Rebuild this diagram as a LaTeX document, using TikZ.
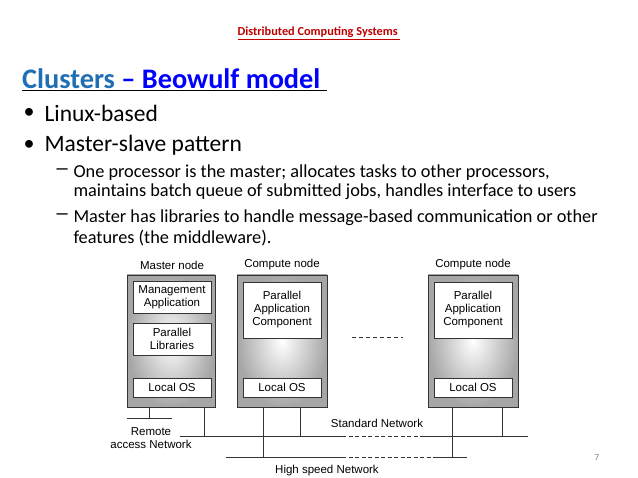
\documentclass[tikz,border=0pt]{standalone}
\usepackage{fontspec}
\setmainfont{Carlito}
\setsansfont{Liberation Sans}
\begin{document}
\begin{tikzpicture}[x=1pt,y=-1pt,
  outer/.style={draw=black!80,line width=0.9pt,inner color=white,outer color=black!35},
  inner/.style={draw=black!80,line width=0.6pt,fill=white,align=center,font=\sffamily\fontsize{11.5}{13}\selectfont,inner sep=0pt},
  lbl/.style={font=\sffamily\fontsize{11.5}{13}\selectfont,align=center},
  net/.style={line width=0.7pt,black!80},
  txt/.style={anchor=west,font=\fontsize{18.3}{22}\selectfont},
  dsh/.style={anchor=west,font=\sffamily\fontsize{20}{22}\selectfont}]
\useasboundingbox[fill=white] (0,0) rectangle (638,478);
\node[text=red!75!black,font=\bfseries\fontsize{12.3}{14}\selectfont] (hdr) at (319,33) {\underline{Distributed Computing Systems\ }};
\node[anchor=west,font=\bfseries\fontsize{28.3}{34}\selectfont,inner sep=0pt] (ttl) at (22,80) {\underline{\textcolor[HTML]{1F6FB5}{Clusters} \textcolor{blue}{– Beowulf model\ }}};
\node[txt,font=\fontsize{22}{26}\selectfont] (b1) at (20,113) {•};
\node[txt,font=\fontsize{23.5}{26}\selectfont] (b1t) at (41,113) {Linux-based};
\node[txt,font=\fontsize{22}{26}\selectfont] (b2) at (20,145) {•};
\node[txt,font=\fontsize{23.5}{26}\selectfont] (b2t) at (41,145) {Master-slave pattern};
\node[dsh] (d1) at (53,172) {–};
\node[txt] (t1) at (70,173) {One processor is the master; allocates tasks to other processors,};
\node[txt] (t1b) at (70,192) {maintains batch queue of submitted jobs, handles interface to users};
\node[dsh] (d2) at (53,217) {–};
\node[txt] (t2) at (70,218) {Master has libraries to handle message-based communication or other};
\node[txt] (t2b) at (70,238) {features (the middleware).};
% boxes
\path[outer] (127,275) rectangle (215,407);
\path[outer] (237,275) rectangle (327,407);
\path[outer] (428,275) rectangle (518,407);
\node[inner,minimum width=78pt,minimum height=32pt] (mg) at (172,297) {Management\\Application};
\node[inner,minimum width=78pt,minimum height=32pt] (pl) at (172,339) {Parallel\\Libraries};
\node[inner,minimum width=78pt,minimum height=19pt] (os1) at (172,387.5) {Local OS};
\node[inner,minimum width=78pt,minimum height=56pt] (pa1) at (282,310) {Parallel\\Application\\Component};
\node[inner,minimum width=78pt,minimum height=19pt] (os2) at (282,387.5) {Local OS};
\node[inner,minimum width=78pt,minimum height=56pt] (pa2) at (473,310) {Parallel\\Application\\Component};
\node[inner,minimum width=78pt,minimum height=19pt] (os3) at (473,387.5) {Local OS};
\node[lbl] (l1) at (172,265) {Master node};
\node[lbl] (l2) at (282,265) {Compute node};
\node[lbl] (l3) at (473,265) {Compute node};
\draw[net,dash pattern=on 4pt off 3pt] (352,337) -- (403,337);
% networks
\draw[net] (149,407) -- (149,418); \draw[net] (127,418) -- (172,418);
\node[lbl] (ra) at (151,438.5) {Remote\\access Network};
\draw[net] (180,436) -- (342,436); \draw[net,dash pattern=on 4pt off 2.5pt] (342,436) -- (422,436); \draw[net] (422,436) -- (528,436);
\node[lbl] (sn) at (377,423) {Standard Network};
\draw[net] (204,407) -- (204,436); \draw[net] (300,407) -- (300,436); \draw[net] (502,407) -- (502,436);
\draw[net] (226,457) -- (342,457); \draw[net,dash pattern=on 4pt off 2.5pt] (342,457) -- (433,457); \draw[net] (433,457) -- (467,457);
\draw[net] (263,407) -- (263,457); \draw[net] (452,407) -- (452,457);
\node[lbl] (hs) at (327,471) {High speed Network};
\node[text=black!50,font=\fontsize{9}{10}\selectfont] (pg) at (597,458) {7};
\end{tikzpicture}
\end{document}
